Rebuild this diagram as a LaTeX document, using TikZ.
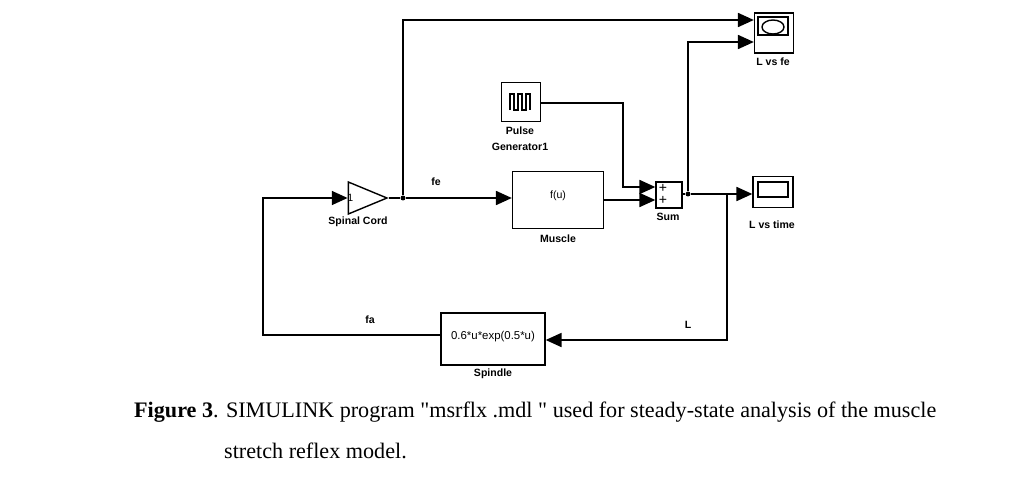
\documentclass[tikz,border=0pt]{standalone}
\usepackage{fontspec}
\setmainfont{Liberation Serif}
\newfontfamily\blk{Liberation Sans}
\usetikzlibrary{positioning,arrows.meta,shapes.geometric}
\tikzset{
  blk/.style={rectangle,draw=black,thick,inner sep=0pt},
  lbl/.style={font=\blk\bfseries\fontsize{6}{7}\selectfont},
  sig/.style={thick,-{Triangle[length=9pt,width=8pt]}},
  wire/.style={thick},
  dot/.style={circle,fill=black,inner sep=1pt},
}
\begin{document}
\begin{tikzpicture}[x=0.02cm,y=-0.02cm]
\useasboundingbox (0,0) rectangle (1024,480);
% blocks, col, row in pixels
\node[isosceles triangle,draw=black,thick,minimum height=32*0.02cm,minimum width=32*0.02cm,inner sep=0pt] (cord) at (359,198) {};
\node[lbl,font=\blk\fontsize{6}{7}\selectfont] at (cord.center) [xshift=-5pt] {1};
\node[lbl] at (358,222) {Spinal Cord};
\node[blk,minimum width=91*0.02cm,minimum height=57*0.02cm] (muscle) at (558,200) {};
\node[lbl,font=\blk\fontsize{6}{7}\selectfont] at (558,196) {f(u)};
\node[lbl] at (558,239) {Muscle};
\node[blk,minimum width=39*0.02cm,minimum height=39*0.02cm] (pulse) at (521,102) {};
\draw[thick] (510,110) -- ++(0,-16) -- ++(4,0) -- ++(0,16) -- ++(4,0) -- ++(0,-16) -- ++(4,0) -- ++(0,16) -- ++(4,0) -- ++(0,-16) -- ++(4,0) -- ++(0,16);
\node[lbl] at (520,131) {Pulse};
\node[lbl] at (520,147) {Generator1};
\node[blk,minimum width=26*0.02cm,minimum height=26*0.02cm] (sum) at (669,195) {};
\node[lbl,font=\blk\fontsize{8}{8}\selectfont] at (663,188) {+};
\node[lbl,font=\blk\fontsize{8}{8}\selectfont] at (663,200) {+};
\node[lbl] at (668,217) {Sum};
\node[blk,minimum width=39*0.02cm,minimum height=40*0.02cm] (scopefe) at (774,33) {};
\draw[thick] (758,17) rectangle (788,35);
\draw[thick] (773,27) ellipse (11 and 7);
\node[lbl] at (773,62) {L vs fe};
\node[blk,minimum width=40*0.02cm,minimum height=31*0.02cm] (scopet) at (773,192) {};
\draw[thick] (758,182) rectangle (788,197);
\node[lbl] at (772,225) {L vs time};
\node[blk,minimum width=104*0.02cm,minimum height=52*0.02cm] (spindle) at (493,339) {};
\node[lbl,font=\blk\fontsize{6.5}{7}\selectfont] at (493,337) {0.6*u*exp(0.5*u)};
\node[lbl] at (493,374) {Spindle};
\node[lbl] at (436,182) {fe};
\node[lbl] at (370,320) {fa};
\node[lbl] at (688,325) {L};
% wires
\node[dot] (b1) at (403,198) {};
\node[dot] (b2) at (688,194) {};
\coordinate (in1) at (sum.west |- 0,187);
\coordinate (in2) at (sum.west |- 0,200);
\draw[wire] (cord.east) -- (b1);
\draw[sig] (b1) -- (muscle.west |- b1);
\draw[sig] (b1) |- (scopefe.west |- 0,20);
\draw[sig] (pulse.east |- 0,103) -| (623,187) -- (in1);
\draw[sig] (muscle.east |- in2) -- (in2);
\draw[wire] (sum.east |- b2) -- (b2);
\draw[sig] (b2) -- (scopet.west |- b2);
\draw[sig] (b2) |- (scopefe.west |- 0,42);
\draw[sig] (727,194) -- (727,340) -- (spindle.east |- 0,340);
\draw[sig] (spindle.west |- 0,335) -| (263,198) -- (cord.west);
% caption
\node[anchor=west,font=\fontsize{12.6}{14}\selectfont] at (128,412) {\textbf{Figure 3}. SIMULINK program \textquotedbl msrflx .mdl \textquotedbl\ used for steady-state analysis of the muscle};
\node[anchor=west,font=\fontsize{12.6}{14}\selectfont] at (218,451) {stretch reflex model.};
\end{tikzpicture}
\end{document}
